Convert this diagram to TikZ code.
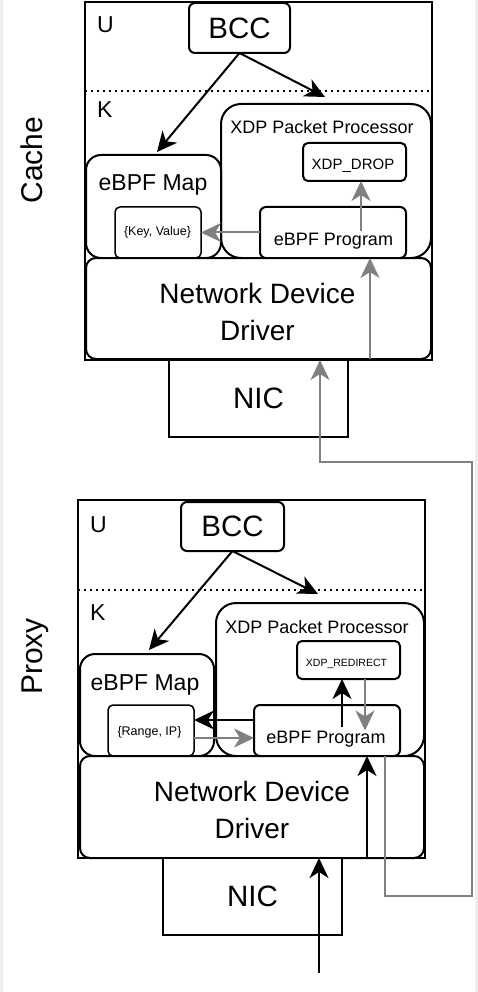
\documentclass[tikz,border=0pt]{standalone}
\usepackage{fontspec}
\setmainfont{Liberation Sans}
\usetikzlibrary{arrows.meta,calc}

\definecolor{grayline}{RGB}{128,128,128}
\definecolor{pagegray}{RGB}{238,238,238}

\begin{document}
\begin{tikzpicture}[x=1pt,y=-1pt,
  box/.style={draw, line width=2pt, fill=white, inner sep=0pt, outer sep=0pt},
  txt/.style={inner sep=0pt, outer sep=0pt, anchor=base},
  sidefont/.style={font=\fontsize{30pt}{36pt}\selectfont},
  bigfont/.style={font=\fontsize{29.5pt}{36pt}\selectfont},
  drvfont/.style={font=\fontsize{28pt}{36.5pt}\selectfont},
  mapfont/.style={font=\fontsize{23pt}{28pt}\selectfont},
  procfont/.style={font=\fontsize{18pt}{22pt}\selectfont},
  dropfont/.style={font=\fontsize{15pt}{18pt}\selectfont},
  keyfont/.style={font=\fontsize{12.5pt}{15pt}\selectfont},
  redirfont/.style={font=\fontsize{10.5pt}{13pt}\selectfont},
  blk/.style={line width=2pt, -{Stealth[length=20pt,width=19pt,inset=6pt]}},
  gry/.style={line width=2pt, color=grayline, -{Stealth[length=20pt,width=19pt,inset=6pt]}},
  sepline/.style={line width=2pt, dash pattern=on 2pt off 4pt}]
\useasboundingbox (0,0) rectangle (478,992);
\fill[pagegray] (0,0) rectangle (478,992);
\fill[white] (3,0) rectangle (475,992);

%Cache
\node[box, minimum width=347pt, minimum height=358pt] (frameA) at (258.5,181) {};
\draw[sepline] ($(frameA.north west)+(0,89)$) -- ($(frameA.north east)+(0,89)$);
\node[txt, anchor=base west, mapfont] (userA) at (97,33) {U};
\node[txt, anchor=base west, mapfont] (kernA) at (97,118) {K};
\node[box, rounded corners=20pt, minimum width=210pt, minimum height=154pt] (procA) at (326,181) {};
\node[box, rounded corners=15pt, minimum width=135pt, minimum height=103pt] (mapA) at (153.5,206.5) {};
\node[box, rounded corners=5pt, minimum width=103pt, minimum height=38pt] (dropA) at (354.5,162) {};
\node[box, rounded corners=5pt, line width=1.5pt, minimum width=86pt, minimum height=51pt] (keyA) at (158,232.5) {};
\node[box, rounded corners=6pt, minimum width=146pt, minimum height=51pt] (progA) at (333,232.5) {};
\node[box, rounded corners=10pt, minimum width=345pt, minimum height=101pt] (nddA) at (258.5,308.5) {};
\node[box, minimum width=179pt, minimum height=77pt, bigfont] (nicA) at (258.5,398.5) {NIC};
\node[box, rounded corners=6pt, minimum width=101pt, minimum height=50pt, bigfont] (bccA) at (239.5,28) {BCC};
\node[txt, procfont] (procAt) at (322,134) {XDP Packet Processor};
\node[txt, mapfont] (mapAt) at (153,191) {eBPF Map};
\node[txt, dropfont] (dropAt) at (353,170) {XDP\_DROP};
\node[txt, keyfont] (keyAt) at (157.5,235.5) {\{Key, Value\}};
\node[txt, procfont] (progAt) at (333.5,245) {eBPF Program};
\node[txt, drvfont, align=center, anchor=north] (nddAt) at (257.5,283.3) {Network Device\\Driver};
\node[txt, sidefont, rotate=90] (cacheT) at (42,160) {Cache};

\draw[blk] (bccA.south) -- ($(mapA.north)+(3.5,-3)$);
\draw[blk] (bccA.south) -- ($(procA.north)+(-1,-7)$);
\draw[gry] (progA.west) -- (keyA.east);
\draw[gry] ($(progA.center)+(28,-1.5)$) -- ($(dropA.south)+(6.5,0)$);
\draw[gry] ($(nddA.south)+(111.5,0)$) -- ($(progA.south)+(37,0)$);

%Proxy
\node[box, minimum width=347pt, minimum height=358pt] (frameB) at (251.5,679) {};
\draw[sepline] ($(frameB.north west)+(0,90)$) -- ($(frameB.north east)+(0,90)$);
\node[txt, anchor=base west, mapfont] (userB) at (90,532) {U};
\node[txt, anchor=base west, mapfont] (kernB) at (90,620) {K};
\node[box, rounded corners=20pt, minimum width=208pt, minimum height=153pt] (procB) at (320,679.5) {};
\node[box, rounded corners=15pt, minimum width=134pt, minimum height=102pt] (mapB) at (147,705) {};
\node[box, rounded corners=5pt, minimum width=103pt, minimum height=38pt] (redirB) at (348.5,660) {};
\node[box, rounded corners=5pt, line width=1.5pt, minimum width=86pt, minimum height=51pt] (rangeB) at (151,730.5) {};
\node[box, rounded corners=6pt, minimum width=146pt, minimum height=51pt] (progB) at (327,730.5) {};
\node[box, rounded corners=10pt, minimum width=344pt, minimum height=102pt] (nddB) at (252,807) {};
\node[box, minimum width=179pt, minimum height=77pt, bigfont] (nicB) at (252.5,896.5) {NIC};
\node[box, rounded corners=6pt, minimum width=103pt, minimum height=49pt, bigfont] (bccB) at (232.5,526.5) {BCC};
\node[txt, procfont] (procBt) at (317,633) {XDP Packet Processor};
\node[txt, mapfont] (mapBt) at (145,690) {eBPF Map};
\node[txt, redirfont] (redirBt) at (346.5,666) {XDP\_REDIRECT};
\node[txt, keyfont] (rangeBt) at (149.5,735.5) {\{Range, IP\}};
\node[txt, procfont] (progBt) at (326,743.5) {eBPF Program};
\node[txt, drvfont, align=center, anchor=north] (nddBt) at (252,781.7) {Network Device\\Driver};
\node[txt, sidefont, rotate=90] (proxyT) at (42,656.5) {Proxy};

\draw[blk] (bccB.south) -- ($(mapB.north)+(2,-4)$);
\draw[blk] (bccB.south) -- ($(procB.north)+(-2,-9)$);
\draw[blk] ($(progB.west)+(0,-10.5)$) -- ($(rangeB.east)+(0,-10.5)$);
\draw[gry] ($(rangeB.east)+(0,7.5)$) -- ($(progB.west)+(0,7.5)$);
\draw[blk] ($(progB.center)+(15,-3.5)$) -- ($(redirB.south)+(-6.5,0)$);
\draw[gry] ($(redirB.south)+(16.5,0)$) -- ($(progB.center)+(38,0)$);
\draw[blk] ($(nddB.south)+(115,0)$) -- ($(progB.south)+(40,0)$);
\coordinate (inB) at (319,973);
\draw[blk] (inB) -- ($(nicB.north)+(66.5,0)$);

%Redirect back to the cache
\coordinate (loopA) at (472,896);
\coordinate (loopB) at (472,462);
\draw[gry, line width=1.5pt] ($(progB.south)+(58,0)$) |- (loopA) -- (loopB) -| ($(nicA.north)+(61.5,0)$);

\end{tikzpicture}
\end{document}
